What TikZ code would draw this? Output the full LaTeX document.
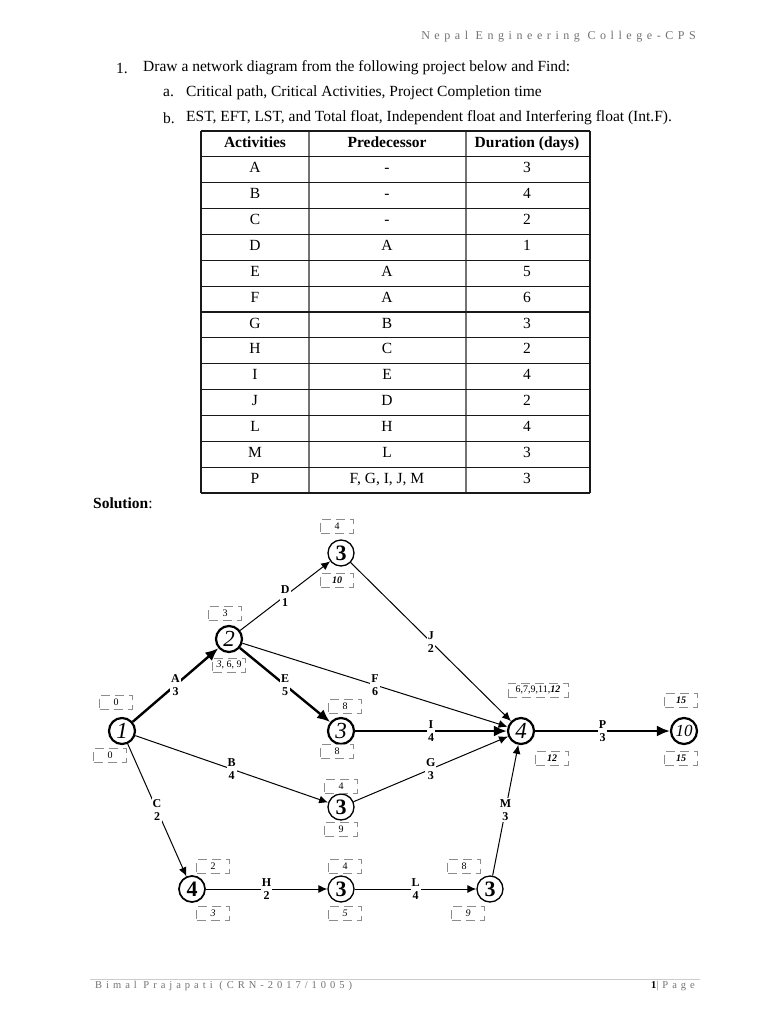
\documentclass[tikz,border=0pt]{standalone}
\usepackage{fontspec}
\setmainfont{Liberation Serif}
\usetikzlibrary{positioning,arrows.meta}

\tikzset{
  event/.style={circle, draw, fill=white, line width=1.3pt, minimum size=26pt, inner sep=0pt, font=\fontsize{22}{22}\selectfont\bfseries},
  critevent/.style={event, line width=2.2pt, font=\fontsize{23}{23}\selectfont\itshape},
  slack/.style={draw=black!45, dash pattern=on 9pt off 5pt, line width=0.8pt, minimum width=33pt, minimum height=14pt, inner sep=0pt, font=\fontsize{10}{10}\selectfont},
  activity/.style={-{Latex[length=9pt,width=8pt]}, line width=1pt},
  critactivity/.style={-{Latex[length=13pt,width=11pt]}, line width=2.4pt},
  actlabel/.style={midway, fill=white, inner sep=1pt, align=center, font=\fontsize{12}{13.5}\selectfont\bfseries},
  body/.style={anchor=west, inner sep=0pt, font=\fontsize{15.5}{15.5}\selectfont},
  cell/.style={anchor=base, inner sep=0pt, font=\fontsize{15.5}{15.5}\selectfont},
  gridline/.style={draw=black!90, line width=1.2pt},
  colline/.style={draw=black!55, line width=1.4pt},
  pagetext/.style={inner sep=0pt, text=black!55, font=\fontsize{10.5}{10.5}\selectfont\addfontfeature{LetterSpace=38}}
}

\begin{document}
\begin{tikzpicture}[x=1pt, y=-1pt, on grid]

  \useasboundingbox (0,0) rectangle (768,1024);
  \fill[white] (0,0) rectangle (768,1024);

  % Page text
  \node[pagetext, anchor=east, font=\fontsize{12}{12}\selectfont\addfontfeature{LetterSpace=38}] (college) at (696,37) {Nepal Engineering College-CPS};
  \node[body] (num) at (116,68) {1.};
  \node[body] (task) at (143,68) {Draw a network diagram from the following project below and Find:};
  \node[body] (numa) at (163,93) {a.};
  \node[body] (taska) at (186,93) {Critical path, Critical Activities, Project Completion time};
  \node[body] (numb) at (163,118) {b.};
  \node[body] (taskb) at (186,118) {EST, EFT, LST, and Total float, Independent float and Interfering float (Int.F).};
  \node[body] (solution) at (93,503) {\textbf{Solution}:};

  % Table
  \foreach \c in {309,466} \draw[colline] (\c,131) -- (\c,493);
  \foreach \r in {0,...,14} \draw[gridline] (201,{131+25.86*\r}) -- (590,{131+25.86*\r});
  \foreach \c in {201,590} \draw[gridline] (\c,131) -- (\c,493);
  \node[cell] (headA) at (255,147.5) {\textbf{Activities}};
  \node[cell] (headP) at (387,147.5) {\textbf{Predecessor}};
  \node[cell] (headD) at (527,147.5) {\textbf{Duration (days)}};
  \foreach \act/\pre/\dur [count=\r] in {A/-/3, B/-/4, C/-/2, D/A/1, E/A/5, F/A/6, G/B/3, H/C/2, I/E/4, J/D/2, L/H/4, M/L/3, P/{F, G, I, J, M}/3} {
    \node[cell] (act\r) at (255,{147+25.86*\r}) {\act};
    \node[cell] (pre\r) at (387,{147+25.86*\r}) {\pre};
    \node[cell] (dur\r) at (527,{147+25.86*\r}) {\dur};
  }

  % Define nodes
  \node[critevent]                                (start)  at (122,731) {1};
  \node[critevent, above right=92pt and 107pt of start] (nd2) {2};
  \node[event, above right=86pt and 112pt of nd2] (ndD) {3};
  \node[critevent, below right=92pt and 112pt of nd2] (ndE) {3};
  \node[event, below=76pt of ndE]                 (ndB) {3};
  \node[critevent, right=180pt of ndE]            (merge) {4};
  \node[critevent, right=163pt of merge, font=\fontsize{17}{17}\selectfont\itshape] (finish) {10};
  \node[event, below right=158pt and 70pt of start, line width=1.7pt] (ndC) {4};
  \node[event, right=149pt of ndC]                (ndH) {3};
  \node[event, right=149pt of ndH]                (ndL) {3};

  % Slack boxes
  \node[slack, above=27pt of ndD, xshift=-4pt]    (eD) {4};
  \node[slack, below=27pt of ndD, xshift=-4pt]    (lD) {\textit{\textbf{10}}};
  \node[slack, above=26pt of nd2, xshift=-4pt]    (e2) {3};
  \node[slack, below=26pt of nd2]                 (l2) {\textit{3}, 6, 9};
  \node[slack, above=29pt of start, xshift=-6pt]  (e1) {0};
  \node[slack, below=24pt of start, xshift=-12pt] (l1) {0};
  \node[slack, above=25pt of ndE, xshift=4pt]     (eE) {8};
  \node[slack, below=20pt of ndE, xshift=-4pt]    (lE) {8};
  \node[slack, above=21pt of ndB]                 (eB) {4};
  \node[slack, below=22pt of ndB]                 (lB) {9};
  \node[slack, above=23pt of ndC, xshift=21pt]    (eC) {2};
  \node[slack, below=24pt of ndC, xshift=21pt]    (lC) {\textit{3}};
  \node[slack, above=23pt of ndH, xshift=4pt]     (eH) {4};
  \node[slack, below=24pt of ndH, xshift=4pt]     (lH) {\textit{5}};
  \node[slack, above=23pt of ndL, xshift=-26pt]   (eL) {8};
  \node[slack, below=24pt of ndL, xshift=-22pt]   (lL) {\textit{9}};
  \node[slack, above=41pt of merge, xshift=17pt, minimum width=60pt] (eM) {6,7,9,11,\textit{\textbf{12}}};
  \node[slack, below=27pt of merge, xshift=31pt] (lM) {\textit{\textbf{12}}};
  \node[slack, above=31pt of finish, xshift=-3pt] (eF) {\textit{\textbf{15}}};
  \node[slack, below=27pt of finish, xshift=-3pt] (lF) {\textit{\textbf{15}}};

  % Activities
  \draw[critactivity] (start) -- node[actlabel] (A) {A\\3} (nd2);
  \draw[activity]     (nd2)   -- node[actlabel] (D) {D\\1} (ndD);
  \draw[critactivity] (nd2)   -- node[actlabel] (E) {E\\5} (ndE);
  \draw[activity]     (nd2)   -- node[actlabel] (F) {F\\6} (merge);
  \draw[activity]     (ndD)   -- node[actlabel] (J) {J\\2} (merge);
  \draw[critactivity] (ndE)   -- node[actlabel] (I) {I\\4} (merge);
  \draw[activity]     (start) -- node[actlabel] (B) {B\\4} (ndB);
  \draw[activity]     (ndB)   -- node[actlabel] (G) {G\\3} (merge);
  \draw[activity]     (start) -- node[actlabel] (C) {C\\2} (ndC);
  \draw[activity]     (ndC)   -- node[actlabel] (H) {H\\2} (ndH);
  \draw[activity]     (ndH)   -- node[actlabel] (L) {L\\4} (ndL);
  \draw[activity]     (ndL)   -- node[actlabel] (M) {M\\3} (merge);
  \draw[critactivity] (merge) -- node[actlabel] (P) {P\\3} (finish);

  % Footer
  \coordinate (footl) at (90,979);
  \coordinate (footr) at (700,979);
  \draw[black!20, line width=1pt] (footl) -- (footr);
  \node[pagetext, anchor=west] (author) at (95,986) {Bimal Prajapati (CRN-2017/1005)};
  \node[pagetext, anchor=east] (pageno) at (695,986) {\textbf{\textcolor{black}{1}}|Page};

\end{tikzpicture}
\end{document}
